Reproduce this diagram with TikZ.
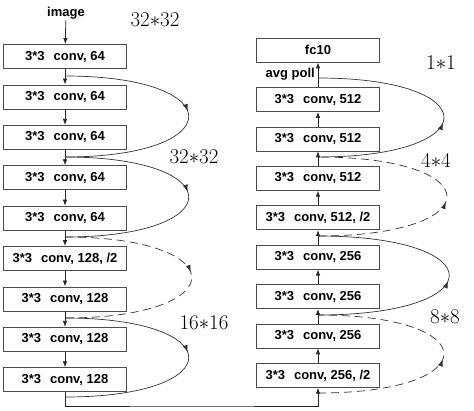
\documentclass[tikz,border=0pt]{standalone}
\usepackage{fontspec}
\newfontfamily\boxfont{Liberation Sans}
\usetikzlibrary{arrows.meta,decorations.markings}
\newcommand\cv[1]{3*3\hspace{9pt}conv, #1}

\tikzset{
  blk/.style={draw=black!70, line width=0.8pt, fill=white, minimum width=123pt,
    minimum height=24pt, inner sep=0pt, font=\fontsize{13}{13}\boxfont\bfseries},
  lbl/.style={inner sep=1pt, font=\fontsize{13}{13}\boxfont\bfseries},
  sz/.style={inner sep=0pt, font=\fontsize{21}{21}\selectfont},
  arr/.style={draw=black!85, line width=0.8pt, -{Latex[length=6pt,width=4.5pt]}},
  skip/.style={draw=black!80, line width=0.7pt, postaction={decorate},
    decoration={markings, mark=at position 0.48 with {\arrow{Latex[length=7pt,width=5pt]}}}},
  dskip/.style={skip, dash pattern=on 8pt off 5pt}
}

\begin{document}
\begin{tikzpicture}[x=1pt,y=-1pt]
  \useasboundingbox (0,0) rectangle (474,410);

  %%%%% left column %%%%%
  \node[lbl] (img) at (66,13) {image};
  \node[blk] (l1) at (65,56.5) {\cv{64}};
  \node[blk] (l2) at (65,96.9) {\cv{64}};
  \node[blk] (l3) at (65,137.3) {\cv{64}};
  \node[blk] (l4) at (65,177.7) {\cv{64}};
  \node[blk] (l5) at (65,218.1) {\cv{64}};
  \node[blk] (l6) at (65,258.5) {\cv{128, /2}};
  \node[blk] (l7) at (65,298.9) {\cv{128}};
  \node[blk] (l8) at (65,339.3) {\cv{128}};
  \node[blk] (l9) at (65,379.7) {\cv{128}};

  \draw[arr] (img) -- (l1);
  \draw[arr] (l1) -- (l2);
  \draw[arr] (l2) -- (l3);
  \draw[arr] (l3) -- (l4);
  \draw[arr] (l4) -- (l5);
  \draw[arr] (l5) -- (l6);
  \draw[arr] (l6) -- (l7);
  \draw[arr] (l7) -- (l8);
  \draw[arr] (l8) -- (l9);

  %%%%% right column %%%%%
  \node[blk] (fc) at (318,50) {fc10};
  \node[blk] (r1) at (318,99.5) {\cv{512}};
  \node[blk] (r2) at (318,138.9) {\cv{512}};
  \node[blk] (r3) at (318,178.3) {\cv{512}};
  \node[blk] (r4) at (318,217.7) {\cv{512, /2}};
  \node[blk] (r5) at (318,257.1) {\cv{256}};
  \node[blk] (r6) at (318,296.5) {\cv{256}};
  \node[blk] (r7) at (318,335.9) {\cv{256}};
  \node[blk] (r8) at (318,375.3) {\cv{256, /2}};
  \node[lbl, anchor=east] (avg) at (316,74) {avg poll};

  \draw[arr] (r8) -- (r7);
  \draw[arr] (r7) -- (r6);
  \draw[arr] (r6) -- (r5);
  \draw[arr] (r5) -- (r4);
  \draw[arr] (r4) -- (r3);
  \draw[arr] (r3) -- (r2);
  \draw[arr] (r2) -- (r1);
  \draw[arr] (r1) -- (fc);

  % link at the bottom
  \coordinate (bot) at (192,406);
  \draw[arr] (l9) |- (bot) -| (r8);

  %%%%% shortcuts %%%%%
  \coordinate (s0) at (65,76);
  \coordinate (s1) at (65,157);
  \coordinate (s2) at (65,237);
  \coordinate (s3) at (65,318);
  \coordinate (s4) at (65,397);
  \draw[skip] (s0) .. controls +(165,0) and +(165,0) .. (s1);
  \draw[skip] (s1) .. controls +(165,0) and +(165,0) .. (s2);
  \draw[dskip] (s2) .. controls +(169,0) and +(169,0) .. (s3);
  \draw[skip] (s3) .. controls +(165,0) and +(165,0) .. (s4);

  \coordinate (t0) at (318,393);
  \coordinate (t1) at (318,315);
  \coordinate (t2) at (318,236);
  \coordinate (t3) at (318,157);
  \coordinate (t4) at (318,78);
  \draw[dskip] (t0) .. controls +(168,0) and +(168,0) .. (t1);
  \draw[skip] (t1) .. controls +(175,0) and +(175,0) .. (t2);
  \draw[dskip] (t2) .. controls +(172,0) and +(172,0) .. (t3);
  \draw[skip] (t3) .. controls +(168,0) and +(168,0) .. (t4);

  %%%%% sizes %%%%%
  \node[sz] (m1) at (155,20) {32$\ast$32};
  \node[sz] (m2) at (194,157) {32$\ast$32};
  \node[sz] (m3) at (204,323) {16$\ast$16};
  \node[sz] (m4) at (441,63) {1$\ast$1};
  \node[sz] (m5) at (436,160) {4$\ast$4};
  \node[sz] (m6) at (445,317) {8$\ast$8};
\end{tikzpicture}
\end{document}
